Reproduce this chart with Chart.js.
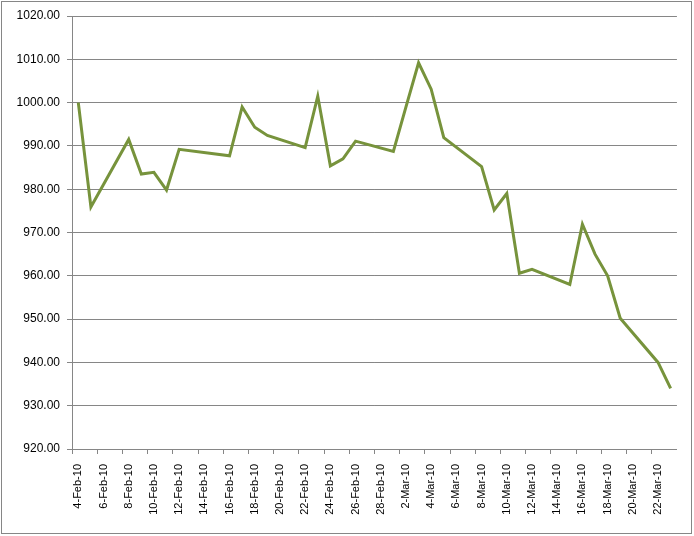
<!DOCTYPE html>
<html>
<head>
<meta charset="utf-8">
<script src="https://cdn.jsdelivr.net/npm/chart.js@4"></script>
<style>
html,body{margin:0;padding:0;background:#fff;}
#wrap{position:relative;width:694px;height:536px;}
</style>
</head>
<body>
<div id="wrap"><canvas id="c" width="694" height="536"></canvas></div>
<script>
const days = [
  '4-Feb-10','5-Feb-10','6-Feb-10','7-Feb-10','8-Feb-10','9-Feb-10','10-Feb-10','11-Feb-10',
  '12-Feb-10','13-Feb-10','14-Feb-10','15-Feb-10','16-Feb-10','17-Feb-10','18-Feb-10','19-Feb-10',
  '20-Feb-10','21-Feb-10','22-Feb-10','23-Feb-10','24-Feb-10','25-Feb-10','26-Feb-10','27-Feb-10',
  '28-Feb-10','1-Mar-10','2-Mar-10','3-Mar-10','4-Mar-10','5-Mar-10','6-Mar-10','7-Mar-10',
  '8-Mar-10','9-Mar-10','10-Mar-10','11-Mar-10','12-Mar-10','13-Mar-10','14-Mar-10','15-Mar-10',
  '16-Mar-10','17-Mar-10','18-Mar-10','19-Mar-10','20-Mar-10','21-Mar-10','22-Mar-10','23-Mar-10'
];
const values = [
  1000.0, 975.9, null, null, 991.5, 983.5, 983.9, 979.8,
  989.2, null, null, null, 987.7, 999.0, 994.3, 992.4,
  null, null, 989.6, 1001.5, 985.4, 987.0, 991.1, null,
  null, 988.7, 999.0, 1009.2, 1003.1, 991.9, null, null,
  985.2, 975.2, 979.0, 960.6, 961.5, null, null, 958.0,
  971.9, 965.0, 960.0, 950.2, null, null, 940.0, 934.0
];
const yMin = 920, yMax = 1020, yStep = 10;

const borderPlugin = {
  id: 'outerBorder',
  afterDraw(chart) {
    const ctx = chart.ctx;
    ctx.save();
    ctx.strokeStyle = '#868686';
    ctx.lineWidth = 1;
    ctx.strokeRect(1.5, 1.5, 690, 532);
    ctx.restore();
  }
};

new Chart(document.getElementById('c'), {
  type: 'line',
  data: {
    labels: days,
    datasets: [{
      data: values,
      borderColor: '#77933C',
      borderWidth: 3,
      pointRadius: 0,
      tension: 0,
      spanGaps: true,
      fill: false
    }]
  },
  options: {
    responsive: false,
    animation: false,
    devicePixelRatio: 1,
    layout: { padding: { top: 16, right: 16, bottom: 0, left: 0 } },
    plugins: { legend: { display: false }, tooltip: { enabled: false } },
    scales: {
      x: {
        type: 'category',
        offset: true,
        afterFit(s) { s.height = 87; },
        grid: {
          offset: true,
          drawOnChartArea: false,
          drawTicks: true,
          tickLength: 5,
          color: (ctx) => (ctx.index % 2 === 0 ? '#868686' : 'rgba(0,0,0,0)')
        },
        border: { display: true, color: '#868686', width: 1 },
        ticks: {
          autoSkip: false,
          maxRotation: 90,
          minRotation: 90,
          padding: 10,
          color: '#000',
          font: { family: 'Liberation Sans', size: 11 },
          callback: function(v, i) { return i % 2 === 0 ? this.getLabelForValue(v) : ''; }
        }
      },
      y: {
        min: yMin,
        max: yMax,
        afterFit(s) { s.width = 72; },
        grid: { color: '#868686', tickLength: 5, lineWidth: 1 },
        border: { display: true, color: '#868686', width: 1 },
        ticks: {
          stepSize: yStep,
          padding: 7,
          color: '#000',
          font: { family: 'Liberation Sans', size: 12 },
          callback: (v) => Number(v).toFixed(2)
        }
      }
    }
  },
  plugins: [borderPlugin]
});
</script>
</body>
</html>
